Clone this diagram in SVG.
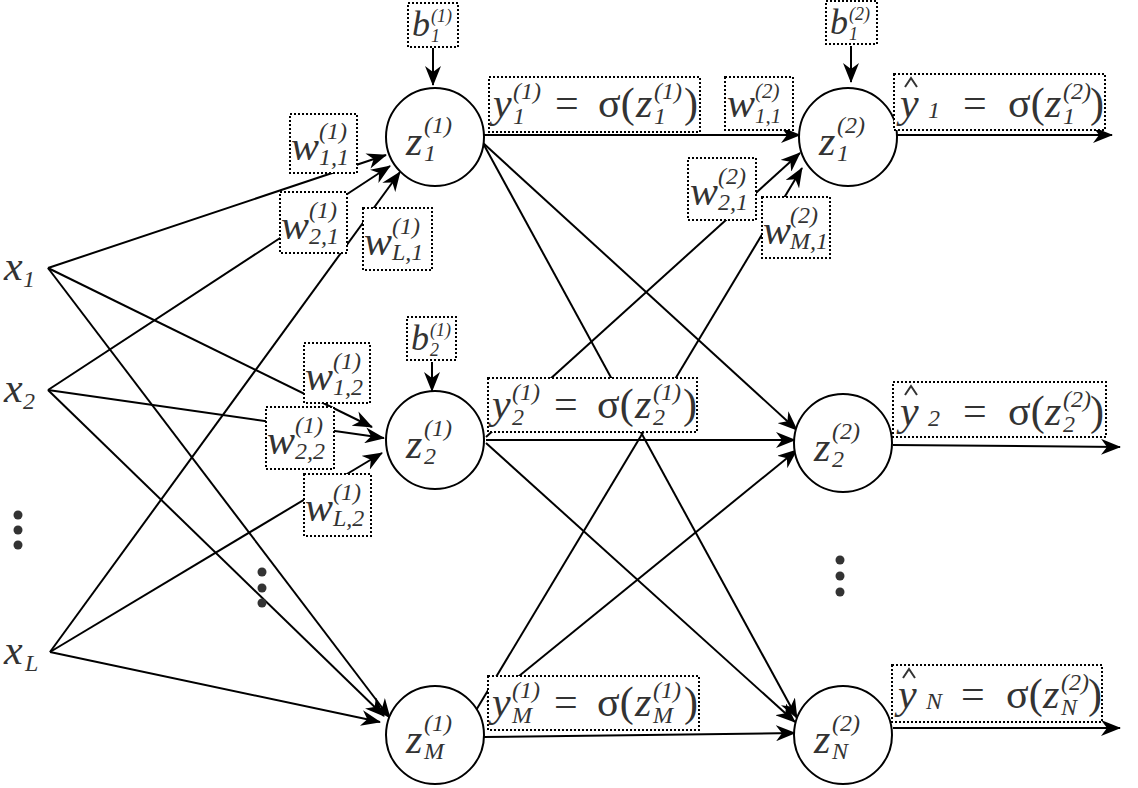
<svg xmlns="http://www.w3.org/2000/svg" width="1138" height="788" viewBox="0 0 1138 788">
<style>
text{font-family:"Liberation Serif",serif;fill:#333;font-style:italic}
.m{font-size:42px}
.s{font-size:24px}
.bm{font-size:36px}
.bs{font-size:18px}
.ws{font-size:21px}
.u{font-style:normal}
.box{fill:#fff;stroke:#000;stroke-width:2;stroke-dasharray:2,2}
.n{fill:#fff;stroke:#000;stroke-width:2}
.hat{fill:none;stroke:#333;stroke-width:2}
.c line{stroke:#000;stroke-width:2;marker-end:url(#a)}
</style>
<defs><marker id="a" markerUnits="userSpaceOnUse" markerWidth="20" markerHeight="16" refX="19" refY="8" orient="auto"><path d="M0,0L20,8L0,16L6,8Z" fill="#000"/></marker></defs>
<g class="c">
<line x1="48" y1="268" x2="386" y2="155"/>
<line x1="48" y1="390" x2="390" y2="166"/>
<line x1="50" y1="652" x2="400" y2="172"/>
<line x1="48" y1="268" x2="372" y2="427"/>
<line x1="48" y1="390" x2="384" y2="438"/>
<line x1="50" y1="652" x2="382" y2="453"/>
<line x1="48" y1="268" x2="390" y2="718"/>
<line x1="48" y1="390" x2="384" y2="716"/>
<line x1="50" y1="652" x2="380" y2="722"/>
<line x1="484" y1="135" x2="800" y2="135"/>
<line x1="482" y1="142" x2="797" y2="430"/>
<line x1="484" y1="145" x2="797" y2="718"/>
<line x1="486" y1="437" x2="800" y2="153"/>
<line x1="486" y1="440" x2="795" y2="440"/>
<line x1="486" y1="443" x2="795" y2="722"/>
<line x1="475" y1="712" x2="802" y2="168"/>
<line x1="487" y1="702" x2="797" y2="450"/>
<line x1="484" y1="737" x2="795" y2="733"/>
<line x1="897" y1="135" x2="1112" y2="135"/>
<line x1="893" y1="445" x2="1120" y2="447"/>
<line x1="893" y1="728" x2="1120" y2="728"/>
<line x1="433" y1="48" x2="433" y2="85"/>
<line x1="851" y1="46" x2="851" y2="82"/>
<line x1="432" y1="362" x2="432" y2="391"/>
</g>
<g id="x1"><text class="m" x="4" y="280">x</text><text class="s" x="23" y="287">1</text></g>
<g id="x2"><text class="m" x="4" y="402">x</text><text class="s" x="23" y="409">2</text></g>
<g id="xL"><text class="m" x="4" y="664">x</text><text class="s" x="25" y="671">L</text></g>
<g id="dots" fill="#333"><circle cx="18" cy="515" r="4.5"/><circle cx="18" cy="530" r="4.5"/><circle cx="18" cy="545" r="4.5"/><circle cx="262" cy="572" r="4.5"/><circle cx="262" cy="588" r="4.5"/><circle cx="262" cy="603" r="4.5"/><circle cx="840" cy="560" r="4.5"/><circle cx="840" cy="576" r="4.5"/><circle cx="840" cy="592" r="4.5"/></g>
<g id="z11"><circle class="n" cx="435" cy="137" r="49"/><text class="m" x="406" y="155">z</text><text class="s" x="424" y="133">(1)</text><text class="s" x="424" y="161">1</text></g>
<g id="z21"><circle class="n" cx="435" cy="440" r="49"/><text class="m" x="406" y="458">z</text><text class="s" x="424" y="436">(1)</text><text class="s" x="424" y="464">2</text></g>
<g id="zM1"><circle class="n" cx="435" cy="735" r="49"/><text class="m" x="406" y="753">z</text><text class="s" x="424" y="731">(1)</text><text class="s" x="424" y="759">M</text></g>
<g id="z12"><circle class="n" cx="848" cy="137" r="49"/><text class="m" x="819" y="155">z</text><text class="s" x="837" y="133">(2)</text><text class="s" x="837" y="161">1</text></g>
<g id="z22"><circle class="n" cx="843" cy="443" r="49"/><text class="m" x="814" y="461">z</text><text class="s" x="832" y="439">(2)</text><text class="s" x="832" y="467">2</text></g>
<g id="zN2"><circle class="n" cx="843" cy="735" r="49"/><text class="m" x="814" y="753">z</text><text class="s" x="832" y="731">(2)</text><text class="s" x="832" y="759">N</text></g>
<g id="b11"><rect class="box" x="408" y="3" width="50" height="44"/><text class="bm" x="412" y="36">b</text><text class="bs" x="431" y="22">(1)</text><text class="bs" x="431" y="42">1</text></g>
<g id="b12"><rect class="box" x="826" y="1" width="51" height="43"/><text class="bm" x="830" y="34">b</text><text class="bs" x="849" y="20">(2)</text><text class="bs" x="849" y="40">1</text></g>
<g id="b21"><rect class="box" x="407" y="317" width="49" height="43"/><text class="bm" x="411" y="350">b</text><text class="bs" x="430" y="336">(1)</text><text class="bs" x="430" y="356">2</text></g>
<g id="w111"><rect class="box" x="290" y="114" width="67" height="59"/><text class="m" x="291" y="160">w</text><text class="s" x="319" y="139">(1)</text><text class="s" x="319" y="165">1,1</text></g>
<g id="w211"><rect class="box" x="280" y="192" width="67" height="61"/><text class="m" x="281" y="239">w</text><text class="s" x="309" y="218">(1)</text><text class="s" x="309" y="244">2,1</text></g>
<g id="wL11"><rect class="box" x="363" y="208" width="69" height="62"/><text class="m" x="364" y="255">w</text><text class="s" x="392" y="234">(1)</text><text class="s" x="392" y="260">L,1</text></g>
<g id="w121"><rect class="box" x="304" y="343" width="66" height="60"/><text class="m" x="305" y="390">w</text><text class="s" x="333" y="369">(1)</text><text class="s" x="333" y="395">1,2</text></g>
<g id="w221"><rect class="box" x="266" y="407" width="68" height="62"/><text class="m" x="267" y="454">w</text><text class="s" x="295" y="433">(1)</text><text class="s" x="295" y="459">2,2</text></g>
<g id="wL21"><rect class="box" x="304" y="474" width="67" height="62"/><text class="m" x="305" y="521">w</text><text class="s" x="333" y="500">(1)</text><text class="s" x="333" y="526">L,2</text></g>
<g id="w112"><rect class="box" x="725" y="77" width="68" height="53"/><text class="m" x="727" y="117">w</text><text class="ws" x="755" y="98">(2)</text><text class="ws" x="755" y="123">1,1</text></g>
<g id="w212"><rect class="box" x="688" y="158" width="68" height="62"/><text class="m" x="690" y="205">w</text><text class="s" x="718" y="184">(2)</text><text class="s" x="718" y="210">2,1</text></g>
<g id="wM12"><rect class="box" x="762" y="197" width="68" height="61"/><text class="m" x="763" y="244">w</text><text class="s" x="790" y="223">(2)</text><text class="s" x="790" y="249">M,1</text></g>
<g id="y1"><rect class="box" x="489" y="77" width="211" height="55"/><text class="m" x="493" y="117">y</text><text class="s" x="513" y="99">(1)</text><text class="s" x="513" y="124">1</text><text class="m u" x="555" y="117">=</text><text class="m u" x="598" y="117">σ(</text><text class="m" x="636" y="117">z</text><text class="s" x="654" y="99">(1)</text><text class="s" x="654" y="124">1</text><text class="m u" x="684" y="117">)</text></g>
<g id="y2"><rect class="box" x="488" y="378" width="209" height="54"/><text class="m" x="492" y="418">y</text><text class="s" x="512" y="400">(1)</text><text class="s" x="512" y="425">2</text><text class="m u" x="554" y="418">=</text><text class="m u" x="597" y="418">σ(</text><text class="m" x="635" y="418">z</text><text class="s" x="653" y="400">(1)</text><text class="s" x="653" y="425">2</text><text class="m u" x="683" y="418">)</text></g>
<g id="yM"><rect class="box" x="488" y="676" width="211" height="54"/><text class="m" x="492" y="716">y</text><text class="s" x="512" y="698">(1)</text><text class="s" x="512" y="723">M</text><text class="m u" x="554" y="716">=</text><text class="m u" x="597" y="716">σ(</text><text class="m" x="635" y="716">z</text><text class="s" x="653" y="698">(1)</text><text class="s" x="653" y="723">M</text><text class="m u" x="684" y="716">)</text></g>
<g id="yh1"><rect class="box" x="894" y="74" width="211" height="56"/><path class="hat" d="M905,87L911,78L917,87"/><text class="m" x="900" y="117">y</text><text class="s" x="928" y="118">1</text><text class="m u" x="963" y="117">=</text><text class="m u" x="1008" y="117">σ(</text><text class="m" x="1045" y="117">z</text><text class="s" x="1063" y="99">(2)</text><text class="s" x="1063" y="124">1</text><text class="m u" x="1090" y="117">)</text></g>
<g id="yh2"><rect class="box" x="893" y="382" width="213" height="55"/><path class="hat" d="M905,395L911,386L917,395"/><text class="m" x="900" y="425">y</text><text class="s" x="928" y="426">2</text><text class="m u" x="963" y="425">=</text><text class="m u" x="1008" y="425">σ(</text><text class="m" x="1045" y="425">z</text><text class="s" x="1063" y="407">(2)</text><text class="s" x="1063" y="432">2</text><text class="m u" x="1090" y="425">)</text></g>
<g id="yhN"><rect class="box" x="892" y="665" width="210" height="57"/><path class="hat" d="M903,678L909,669L915,678"/><text class="m" x="898" y="708">y</text><text class="s" x="926" y="709">N</text><text class="m u" x="961" y="708">=</text><text class="m u" x="1006" y="708">σ(</text><text class="m" x="1043" y="708">z</text><text class="s" x="1061" y="690">(2)</text><text class="s" x="1061" y="715">N</text><text class="m u" x="1088" y="708">)</text></g>
</svg>
